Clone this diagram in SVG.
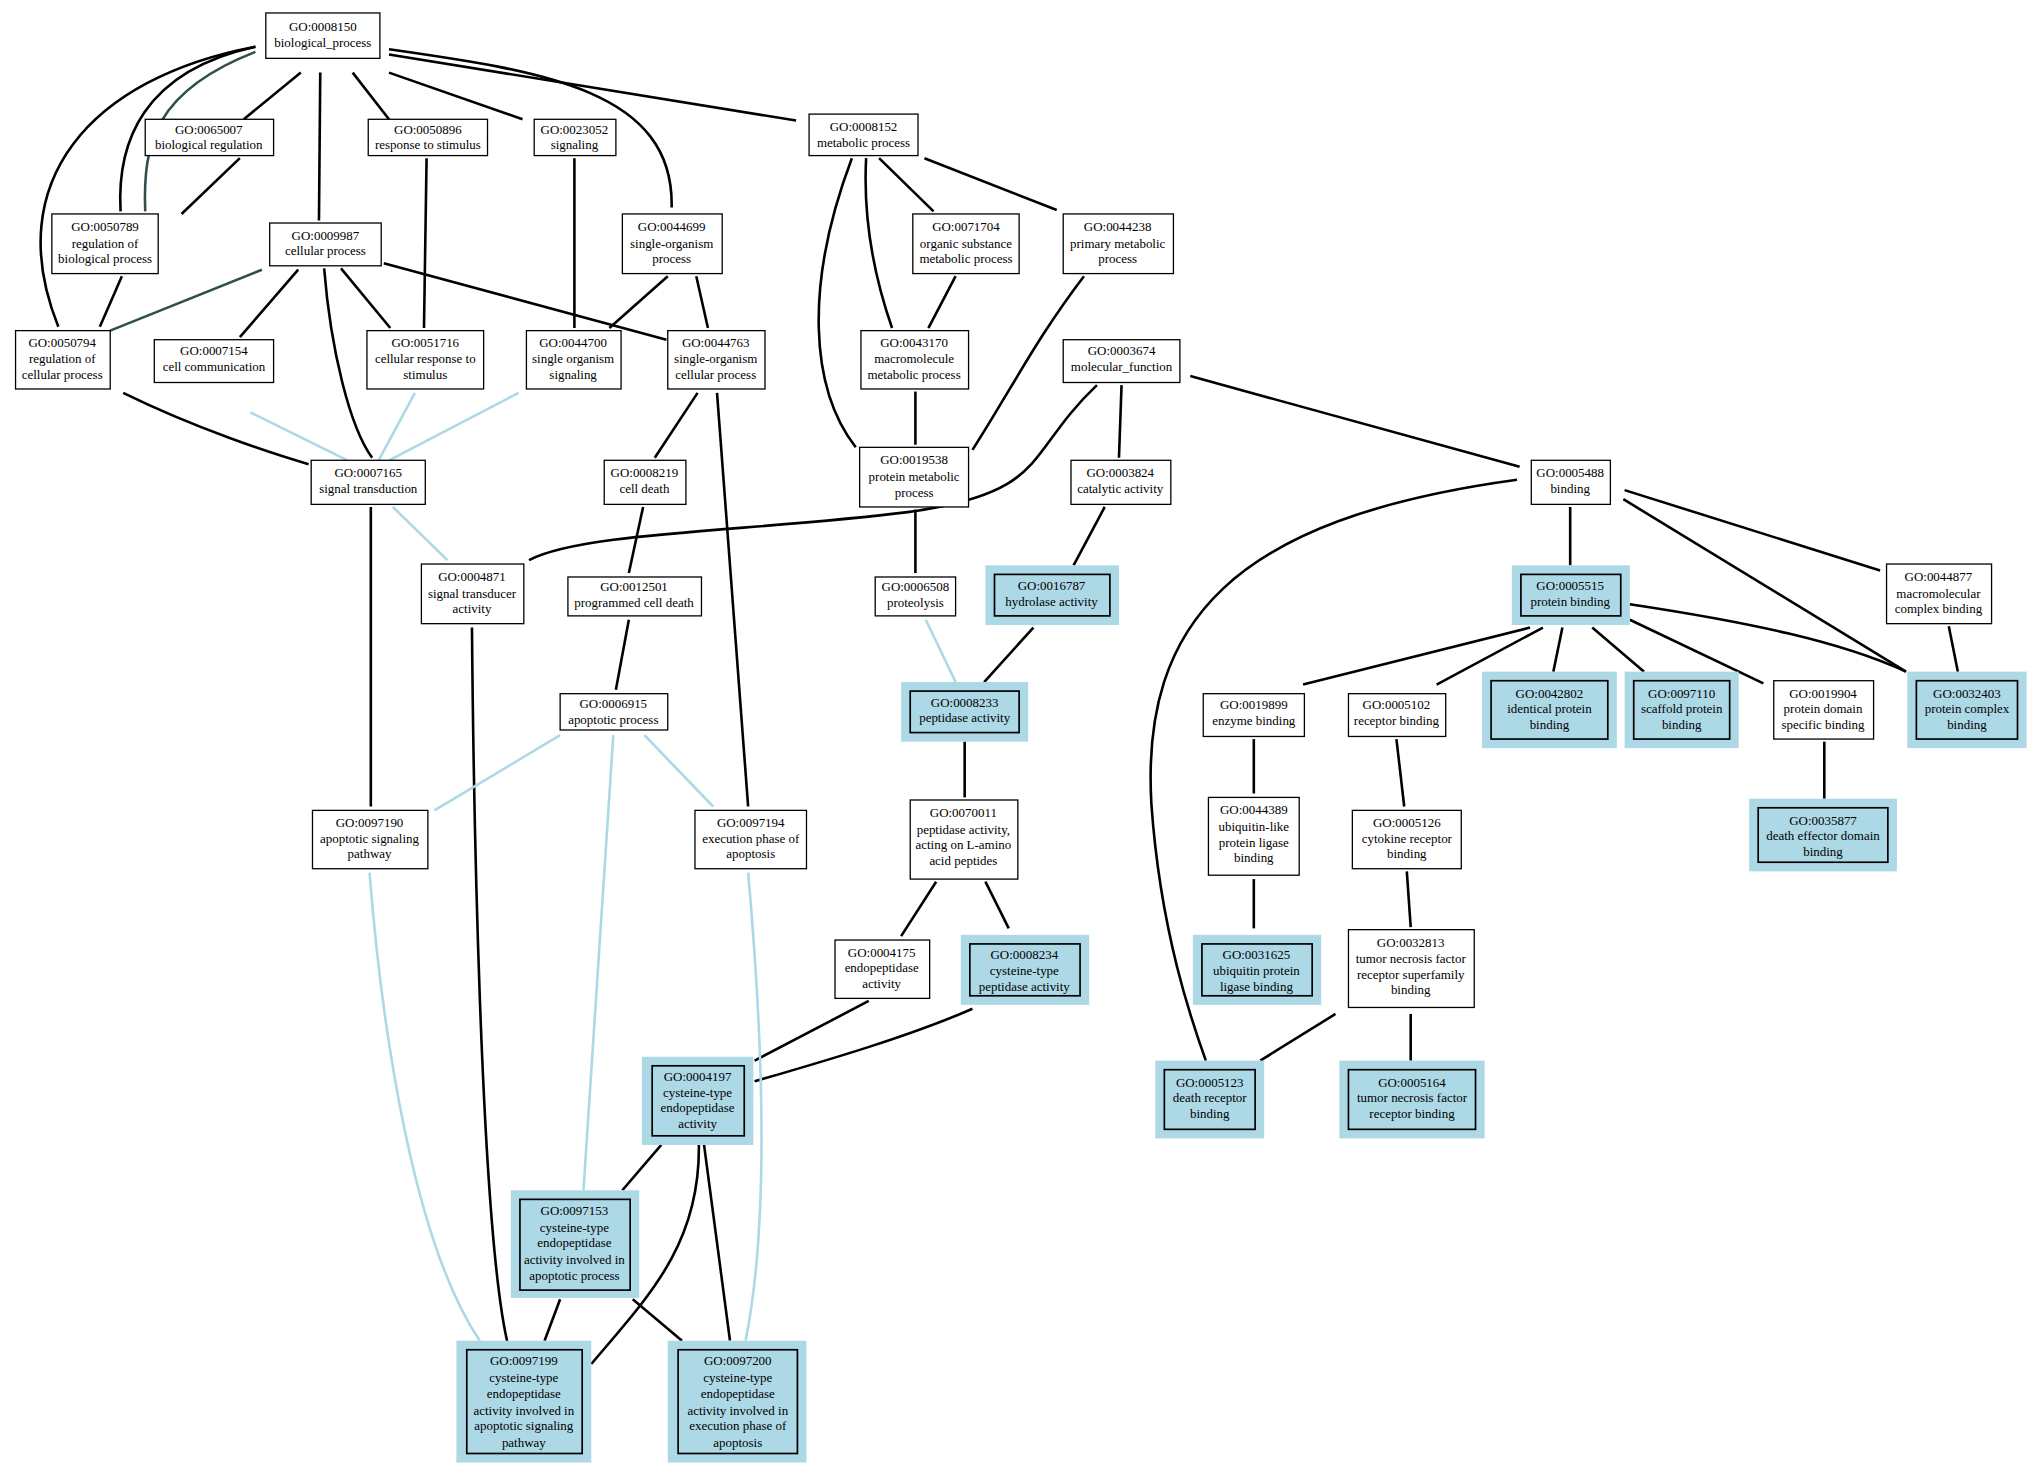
<svg xmlns="http://www.w3.org/2000/svg" width="2033" height="1467" viewBox="0 0 2033 1467">
<style>
.n rect{fill:#fff;stroke:#000;stroke-width:1}
.h .o{fill:#add8e6;stroke:none}
.h .i{fill:#add8e6;stroke:#000;stroke-width:1.3}
text{font-family:"Liberation Serif","Times New Roman",serif;font-size:10px;text-anchor:middle;fill:#000}
.e path{fill:none;stroke-width:2}
.k{stroke:#000}
.b{stroke:#add8e6}
.s{stroke:#2f4f4f}
</style>
<rect width="2033" height="1467" fill="#fff"/>
<g transform="scale(1.2966)">
<g id="edges" class="e">
<path class="k" d="M232,56 L188,92"/>
<path class="k" d="M247,56 L246,170"/>
<path class="k" d="M272,56 L300,92"/>
<path class="k" d="M300,56 L403,92"/>
<path class="k" d="M300,42 L614,93"/>
<path class="k" d="M300,38 C420,55 520,70 518,160"/>
<path class="k" d="M197,36 C110,55 90,110 93,163"/>
<path class="s" d="M197,40 C120,70 110,110 112,163"/>
<path class="k" d="M197,36 C70,60 0,140 45,252"/>
<path class="k" d="M185,122 L140,165"/>
<path class="k" d="M94,213 L77,252"/>
<path class="k" d="M329,122 L327,253"/>
<path class="k" d="M443,122 L443,253"/>
<path class="k" d="M515,213 L470,253"/>
<path class="k" d="M537,213 L546,253"/>
<path class="s" d="M202,208 L85,255"/>
<path class="k" d="M230,208 L185,260"/>
<path class="k" d="M263,207 L301,253"/>
<path class="k" d="M250,207 C255,270 270,330 287,353"/>
<path class="k" d="M296,203 L514,262"/>
<path class="k" d="M95,303 C150,330 210,350 238,358"/>
<path class="k" d="M538,303 L505,353"/>
<path class="k" d="M553,303 L577,622"/>
<path class="k" d="M496,391 L485,442"/>
<path class="k" d="M485,478 L475,532"/>
<path class="k" d="M286,391 L286,622"/>
<path class="k" d="M364,484 C365,600 370,950 392,1038"/>
<path class="k" d="M846,297 C790,350 810,380 700,395 C580,410 450,410 408,432"/>
<path class="k" d="M865,297 L863,353"/>
<path class="k" d="M918,290 L1172,360"/>
<path class="k" d="M678,122 L720,163"/>
<path class="k" d="M668,122 C665,180 680,230 688,253"/>
<path class="k" d="M713,122 L815,162"/>
<path class="k" d="M657,122 C620,220 625,300 660,345"/>
<path class="k" d="M737,213 L716,253"/>
<path class="k" d="M706,302 L706,343"/>
<path class="k" d="M836,213 C800,260 780,300 750,347"/>
<path class="k" d="M706,393 L706,442"/>
<path class="k" d="M852,391 L828,436"/>
<path class="k" d="M797,484 L759,526"/>
<path class="k" d="M744,572 L744,615"/>
<path class="k" d="M722,680 L695,722"/>
<path class="k" d="M760,680 L778,716"/>
<path class="k" d="M670,772 L582,818"/>
<path class="k" d="M750,778 C700,800 630,820 582,834"/>
<path class="k" d="M510,883 L480,918"/>
<path class="k" d="M539,883 C540,960 500,1000 456,1052"/>
<path class="k" d="M543,883 L563,1034"/>
<path class="k" d="M432,1002 L420,1034"/>
<path class="k" d="M488,1002 L526,1034"/>
<path class="k" d="M1170,370 C950,400 880,480 888,620 C895,720 920,790 930,818"/>
<path class="k" d="M1211,391 L1211,436"/>
<path class="k" d="M1252,385 L1470,518"/>
<path class="k" d="M1253,378 L1450,440"/>
<path class="k" d="M1503,483 L1510,518"/>
<path class="k" d="M1180,484 L1005,528"/>
<path class="k" d="M1190,484 L1108,528"/>
<path class="k" d="M1205,484 L1198,518"/>
<path class="k" d="M1228,484 L1268,518"/>
<path class="k" d="M1257,478 L1360,527"/>
<path class="k" d="M1257,466 C1350,480 1420,495 1470,518"/>
<path class="k" d="M967,570 L967,612"/>
<path class="k" d="M1077,570 L1083,622"/>
<path class="k" d="M1407,572 L1407,616"/>
<path class="k" d="M967,678 L967,716"/>
<path class="k" d="M1085,672 L1088,715"/>
<path class="k" d="M1030,782 L972,818"/>
<path class="k" d="M1088,782 L1088,818"/>
<path class="b" d="M193,318 L268,355"/>
<path class="b" d="M320,303 L292,355"/>
<path class="b" d="M400,303 L300,355"/>
<path class="b" d="M303,391 L345,432"/>
<path class="b" d="M714,478 L737,526"/>
<path class="b" d="M432,567 L335,625"/>
<path class="b" d="M473,567 L450,918"/>
<path class="b" d="M497,567 L550,622"/>
<path class="b" d="M285,673 C295,800 320,960 370,1034"/>
<path class="b" d="M577,673 C590,820 592,950 575,1034"/>
</g>

<g id="GO0008150" class="n"><rect x="205" y="10" width="88" height="35"/><text x="249" y="24">GO:0008150</text><text x="249" y="36">biological_process</text></g>
<g id="GO0065007" class="n"><rect x="112" y="92" width="99" height="28"/><text x="161" y="103">GO:0065007</text><text x="161" y="115">biological regulation</text></g>
<g id="GO0050896" class="n"><rect x="284" y="92" width="92" height="28"/><text x="330" y="103">GO:0050896</text><text x="330" y="115">response to stimulus</text></g>
<g id="GO0023052" class="n"><rect x="412" y="92" width="63" height="28"/><text x="443" y="103">GO:0023052</text><text x="443" y="115">signaling</text></g>
<g id="GO0008152" class="n"><rect x="624" y="88" width="84" height="32"/><text x="666" y="101">GO:0008152</text><text x="666" y="113">metabolic process</text></g>
<g id="GO0050789" class="n"><rect x="40" y="165" width="82" height="46"/><text x="81" y="178">GO:0050789</text><text x="81" y="191">regulation of</text><text x="81" y="203">biological process</text></g>
<g id="GO0009987" class="n"><rect x="208" y="172" width="86" height="33"/><text x="251" y="185">GO:0009987</text><text x="251" y="197">cellular process</text></g>
<g id="GO0044699" class="n"><rect x="480" y="165" width="77" height="46"/><text x="518" y="178">GO:0044699</text><text x="518" y="191">single-organism</text><text x="518" y="203">process</text></g>
<g id="GO0071704" class="n"><rect x="704" y="165" width="82" height="46"/><text x="745" y="178">GO:0071704</text><text x="745" y="191">organic substance</text><text x="745" y="203">metabolic process</text></g>
<g id="GO0044238" class="n"><rect x="820" y="165" width="85" height="46"/><text x="862" y="178">GO:0044238</text><text x="862" y="191">primary metabolic</text><text x="862" y="203">process</text></g>
<g id="GO0050794" class="n"><rect x="12" y="255" width="73" height="45"/><text x="48" y="268">GO:0050794</text><text x="48" y="280">regulation of</text><text x="48" y="292">cellular process</text></g>
<g id="GO0007154" class="n"><rect x="119" y="262" width="92" height="33"/><text x="165" y="274">GO:0007154</text><text x="165" y="286">cell communication</text></g>
<g id="GO0051716" class="n"><rect x="283" y="255" width="90" height="45"/><text x="328" y="268">GO:0051716</text><text x="328" y="280">cellular response to</text><text x="328" y="292">stimulus</text></g>
<g id="GO0044700" class="n"><rect x="406" y="255" width="73" height="45"/><text x="442" y="268">GO:0044700</text><text x="442" y="280">single organism</text><text x="442" y="292">signaling</text></g>
<g id="GO0044763" class="n"><rect x="515" y="255" width="75" height="45"/><text x="552" y="268">GO:0044763</text><text x="552" y="280">single-organism</text><text x="552" y="292">cellular process</text></g>
<g id="GO0043170" class="n"><rect x="664" y="255" width="83" height="45"/><text x="705" y="268">GO:0043170</text><text x="705" y="280">macromolecule</text><text x="705" y="292">metabolic process</text></g>
<g id="GO0003674" class="n"><rect x="820" y="262" width="90" height="33"/><text x="865" y="274">GO:0003674</text><text x="865" y="286">molecular_function</text></g>
<g id="GO0007165" class="n"><rect x="240" y="355" width="88" height="34"/><text x="284" y="368">GO:0007165</text><text x="284" y="380">signal transduction</text></g>
<g id="GO0008219" class="n"><rect x="466" y="355" width="63" height="34"/><text x="497" y="368">GO:0008219</text><text x="497" y="380">cell death</text></g>
<g id="GO0019538" class="n"><rect x="663" y="345" width="84" height="46"/><text x="705" y="358">GO:0019538</text><text x="705" y="371">protein metabolic</text><text x="705" y="383">process</text></g>
<g id="GO0003824" class="n"><rect x="826" y="355" width="77" height="34"/><text x="864" y="368">GO:0003824</text><text x="864" y="380">catalytic activity</text></g>
<g id="GO0005488" class="n"><rect x="1181" y="355" width="61" height="34"/><text x="1211" y="368">GO:0005488</text><text x="1211" y="380">binding</text></g>
<g id="GO0004871" class="n"><rect x="325" y="435" width="79" height="46"/><text x="364" y="448">GO:0004871</text><text x="364" y="461">signal transducer</text><text x="364" y="473">activity</text></g>
<g id="GO0012501" class="n"><rect x="438" y="445" width="103" height="30"/><text x="489" y="456">GO:0012501</text><text x="489" y="468">programmed cell death</text></g>
<g id="GO0006508" class="n"><rect x="675" y="445" width="62" height="30"/><text x="706" y="456">GO:0006508</text><text x="706" y="468">proteolysis</text></g>
<g id="GO0016787" class="h"><rect class="o" x="760" y="436" width="103" height="46"/><rect class="i" x="767" y="443" width="89" height="32"/><text x="811" y="455">GO:0016787</text><text x="811" y="467">hydrolase activity</text></g>
<g id="GO0005515" class="h"><rect class="o" x="1166" y="436" width="91" height="46"/><rect class="i" x="1173" y="443" width="77" height="32"/><text x="1211" y="455">GO:0005515</text><text x="1211" y="467">protein binding</text></g>
<g id="GO0044877" class="n"><rect x="1455" y="435" width="81" height="46"/><text x="1495" y="448">GO:0044877</text><text x="1495" y="461">macromolecular</text><text x="1495" y="473">complex binding</text></g>
<g id="GO0008233" class="h"><rect class="o" x="695" y="526" width="98" height="46"/><rect class="i" x="702" y="533" width="84" height="32"/><text x="744" y="545">GO:0008233</text><text x="744" y="557">peptidase activity</text></g>
<g id="GO0006915" class="n"><rect x="432" y="535" width="83" height="28"/><text x="473" y="546">GO:0006915</text><text x="473" y="558">apoptotic process</text></g>
<g id="GO0019899" class="n"><rect x="928" y="535" width="78" height="33"/><text x="967" y="547">GO:0019899</text><text x="967" y="559">enzyme binding</text></g>
<g id="GO0005102" class="n"><rect x="1040" y="535" width="75" height="33"/><text x="1077" y="547">GO:0005102</text><text x="1077" y="559">receptor binding</text></g>
<g id="GO0042802" class="h"><rect class="o" x="1143" y="518" width="104" height="59"/><rect class="i" x="1150" y="525" width="90" height="45"/><text x="1195" y="538">GO:0042802</text><text x="1195" y="550">identical protein</text><text x="1195" y="562">binding</text></g>
<g id="GO0097110" class="h"><rect class="o" x="1253" y="518" width="88" height="59"/><rect class="i" x="1260" y="525" width="74" height="45"/><text x="1297" y="538">GO:0097110</text><text x="1297" y="550">scaffold protein</text><text x="1297" y="562">binding</text></g>
<g id="GO0019904" class="n"><rect x="1368" y="525" width="77" height="45"/><text x="1406" y="538">GO:0019904</text><text x="1406" y="550">protein domain</text><text x="1406" y="562">specific binding</text></g>
<g id="GO0032403" class="h"><rect class="o" x="1471" y="518" width="92" height="59"/><rect class="i" x="1478" y="525" width="78" height="45"/><text x="1517" y="538">GO:0032403</text><text x="1517" y="550">protein complex</text><text x="1517" y="562">binding</text></g>
<g id="GO0097190" class="n"><rect x="241" y="625" width="89" height="45"/><text x="285" y="638">GO:0097190</text><text x="285" y="650">apoptotic signaling</text><text x="285" y="662">pathway</text></g>
<g id="GO0097194" class="n"><rect x="536" y="625" width="86" height="45"/><text x="579" y="638">GO:0097194</text><text x="579" y="650">execution phase of</text><text x="579" y="662">apoptosis</text></g>
<g id="GO0070011" class="n"><rect x="702" y="617" width="83" height="61"/><text x="743" y="630">GO:0070011</text><text x="743" y="643">peptidase activity,</text><text x="743" y="655">acting on L-amino</text><text x="743" y="667">acid peptides</text></g>
<g id="GO0044389" class="n"><rect x="932" y="615" width="70" height="60"/><text x="967" y="628">GO:0044389</text><text x="967" y="641">ubiquitin-like</text><text x="967" y="653">protein ligase</text><text x="967" y="665">binding</text></g>
<g id="GO0005126" class="n"><rect x="1043" y="625" width="84" height="45"/><text x="1085" y="638">GO:0005126</text><text x="1085" y="650">cytokine receptor</text><text x="1085" y="662">binding</text></g>
<g id="GO0035877" class="h"><rect class="o" x="1349" y="616" width="114" height="56"/><rect class="i" x="1356" y="623" width="100" height="42"/><text x="1406" y="636">GO:0035877</text><text x="1406" y="648">death effector domain</text><text x="1406" y="660">binding</text></g>
<g id="GO0004175" class="n"><rect x="644" y="725" width="73" height="45"/><text x="680" y="738">GO:0004175</text><text x="680" y="750">endopeptidase</text><text x="680" y="762">activity</text></g>
<g id="GO0008234" class="h"><rect class="o" x="741" y="721" width="99" height="54"/><rect class="i" x="748" y="728" width="85" height="40"/><text x="790" y="740">GO:0008234</text><text x="790" y="752">cysteine-type</text><text x="790" y="764">peptidase activity</text></g>
<g id="GO0031625" class="h"><rect class="o" x="920" y="721" width="99" height="54"/><rect class="i" x="927" y="728" width="85" height="40"/><text x="969" y="740">GO:0031625</text><text x="969" y="752">ubiquitin protein</text><text x="969" y="764">ligase binding</text></g>
<g id="GO0032813" class="n"><rect x="1040" y="717" width="97" height="60"/><text x="1088" y="730">GO:0032813</text><text x="1088" y="743">tumor necrosis factor</text><text x="1088" y="755">receptor superfamily</text><text x="1088" y="767">binding</text></g>
<g id="GO0004197" class="h"><rect class="o" x="495" y="815" width="86" height="68"/><rect class="i" x="503" y="822" width="71" height="54"/><text x="538" y="834">GO:0004197</text><text x="538" y="846">cysteine-type</text><text x="538" y="858">endopeptidase</text><text x="538" y="870">activity</text></g>
<g id="GO0005123" class="h"><rect class="o" x="891" y="818" width="84" height="60"/><rect class="i" x="898" y="825" width="70" height="46"/><text x="933" y="838">GO:0005123</text><text x="933" y="850">death receptor</text><text x="933" y="862">binding</text></g>
<g id="GO0005164" class="h"><rect class="o" x="1033" y="818" width="112" height="60"/><rect class="i" x="1040" y="825" width="98" height="46"/><text x="1089" y="838">GO:0005164</text><text x="1089" y="850">tumor necrosis factor</text><text x="1089" y="862">receptor binding</text></g>
<g id="GO0097153" class="h"><rect class="o" x="394" y="918" width="99" height="83"/><rect class="i" x="401" y="925" width="85" height="70"/><text x="443" y="937">GO:0097153</text><text x="443" y="950">cysteine-type</text><text x="443" y="962">endopeptidase</text><text x="443" y="975">activity involved in</text><text x="443" y="987">apoptotic process</text></g>
<g id="GO0097199" class="h"><rect class="o" x="352" y="1034" width="104" height="94"/><rect class="i" x="360" y="1041" width="89" height="80"/><text x="404" y="1053">GO:0097199</text><text x="404" y="1066">cysteine-type</text><text x="404" y="1078">endopeptidase</text><text x="404" y="1091">activity involved in</text><text x="404" y="1103">apoptotic signaling</text><text x="404" y="1116">pathway</text></g>
<g id="GO0097200" class="h"><rect class="o" x="515" y="1034" width="107" height="94"/><rect class="i" x="523" y="1041" width="92" height="80"/><text x="569" y="1053">GO:0097200</text><text x="569" y="1066">cysteine-type</text><text x="569" y="1078">endopeptidase</text><text x="569" y="1091">activity involved in</text><text x="569" y="1103">execution phase of</text><text x="569" y="1116">apoptosis</text></g>
</g>
</svg>
